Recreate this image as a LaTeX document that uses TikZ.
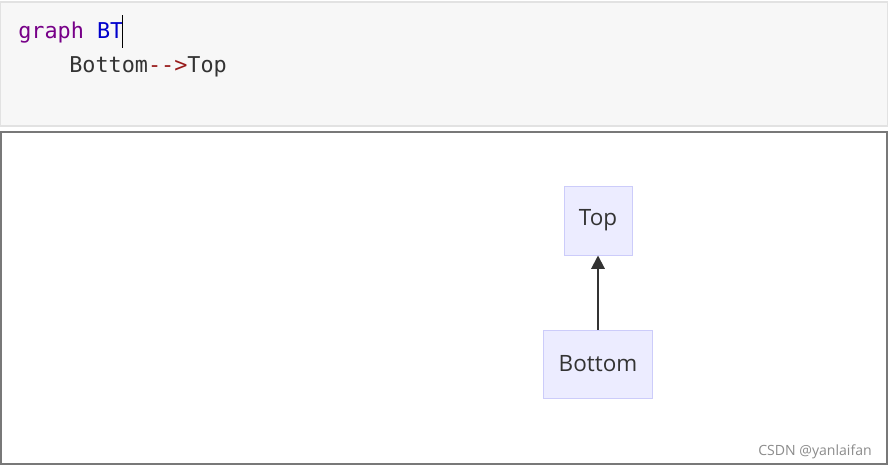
\documentclass[tikz,border=0pt]{standalone}
\usepackage{fontspec}
\setmainfont{Open Sans}
\setmonofont{DejaVu Sans Mono}
\usetikzlibrary{arrows.meta}

\definecolor{panelColor}{RGB}{247,247,247}
\definecolor{panelEdge}{RGB}{226,226,226}
\definecolor{frameColor}{RGB}{120,120,120}
\definecolor{kwColor}{RGB}{119,0,136}
\definecolor{dirColor}{RGB}{0,0,204}
\definecolor{opColor}{RGB}{152,26,26}
\definecolor{textColor}{RGB}{51,51,51}
\definecolor{blockColor}{RGB}{236,236,255}
\definecolor{blockEdge}{RGB}{204,204,250}

\begin{document}
\begin{tikzpicture}[x=0.025cm,y=-0.025cm,
  code/.style={anchor=base west,inner sep=0,font=\ttfamily\fontsize{15.5}{18}\selectfont},
  block/.style={draw=blockEdge,line width=0.7pt,fill=blockColor,text=textColor,
    inner sep=0,font=\fontsize{16}{19}\selectfont}]
  \useasboundingbox (0,0) rectangle (888,468);
  % Code panel
  \draw[fill=panelColor,draw=panelEdge,line width=1pt] (0,2) rectangle (888,126);
  \node[code] (codeHead) at (18,38) {\textcolor{kwColor}{graph} \textcolor{dirColor}{BT}};
  \coordinate (cursorTop) at (122,15);
  \coordinate (cursorBot) at (122,48);
  \draw[line width=0.7pt] (cursorTop) -- (cursorBot);
  \node[code,text=textColor] (codeEdge) at (69,72) {Bottom\textcolor{opColor}{-->}Top};
  % Diagram panel
  \draw[fill=white,draw=frameColor,line width=1.4pt] (1,132) rectangle (887,464);
  \node[block,minimum width=68*0.025cm,minimum height=69*0.025cm] (top) at (598,220.5) {Top};
  \node[block,minimum width=109*0.025cm,minimum height=68*0.025cm] (bottom) at (598,364) {Bottom};
  \draw[line width=1.4pt,textColor,-{Triangle[length=9.5pt,width=9.5pt]}] (bottom) -- (top);
  % Watermark
  \node[anchor=base east,inner sep=0,text=black!45,font=\fontsize{10}{12}\selectfont] (mark) at (872,455) {CSDN @yanlaifan};
\end{tikzpicture}
\end{document}
